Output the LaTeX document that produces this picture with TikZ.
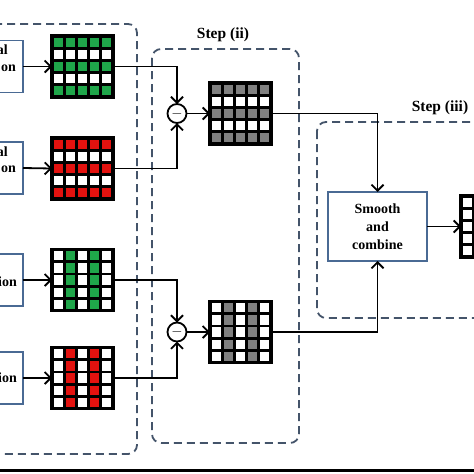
\documentclass[tikz,border=0pt]{standalone}
\usepackage{fontspec}
\setmainfont{Liberation Serif}
\usetikzlibrary{arrows.meta,calc}
\definecolor{dashc}{HTML}{44546A}
\definecolor{boxc}{HTML}{4A6A94}
\definecolor{gr}{HTML}{1FA64A}
\definecolor{rd}{HTML}{E3120F}
\definecolor{gy}{HTML}{808080}
\newcommand\gridlinesx[1]{%
  \foreach \k in {1,...,4}{%
    \draw[line width=2.8pt] ($(#1.north west)+({\k*12.2},0)$) -- +(0,61);
    \draw[line width=2.8pt] ($(#1.north west)+(0,{\k*12.2})$) -- +(61,0);}
  \draw[line width=3.5pt] (#1.north west) rectangle (#1.south east);}
\newcommand\gridrowsx[2]{%
  \foreach \r in {0,2,4}{\fill[#2] ($(#1.north west)+(0,{\r*12.2})$) rectangle +(61,12.2);}
  \gridlinesx{#1}}
\newcommand\gridcolsx[2]{%
  \foreach \c in {1,3}{\fill[#2] ($(#1.north west)+({\c*12.2},0)$) rectangle +(12.2,61);}
  \gridlinesx{#1}}
\begin{document}
\begin{tikzpicture}[x=1pt,y=-1pt,
  conn/.style={line width=1.8pt, draw=black},
  arr/.style={conn, -{Straight Barb[length=6pt,width=12pt,line width=1.8pt]}},
  gridbox/.style={minimum size=61pt, inner sep=0pt, outer sep=0pt, fill=white},
  inbox/.style={draw=boxc, line width=1.3pt, fill=white, minimum width=53pt, minimum height=52pt, inner sep=0pt, outer sep=0pt},
  lbl/.style={font=\fontsize{14}{18}\selectfont\bfseries, inner sep=0pt, anchor=east},
  circ/.style={circle, draw=black, line width=1.8pt, minimum size=19pt, inner sep=0pt, outer sep=0pt},
  stepbox/.style={draw=dashc, line width=1.8pt, dash pattern=on 8pt off 5pt, rounded corners=9pt},
  steplbl/.style={font=\fontsize{15.5}{18}\selectfont\bfseries, inner sep=0pt},
  smbox/.style={draw=boxc, line width=1.3pt, fill=white, minimum width=99pt, minimum height=69pt, align=center, inner sep=0pt, outer sep=0pt, font=\fontsize{14}{18}\selectfont\bfseries}
]
\useasboundingbox (0,0) rectangle (474,474);

% dashed step boxes
\draw[stepbox] (-20,24) rectangle (137,454);
\draw[stepbox] (152,49) rectangle (299,443);
\draw[stepbox] (317,122) rectangle (520,318);
\node[steplbl] (s2) at (223,35) {Step (ii)};
\node[steplbl] (s3) at (440,108) {Step (iii)};

% input boxes (cut at left edge)
\node[inbox] (b1) at (-3.5,66.5) {};
\node[inbox] (b2) at (-3.5,168) {};
\node[inbox] (b3) at (-3.5,280) {};
\node[inbox] (b4) at (-3.5,378) {};
\node[lbl] (t1a) at (8,50) {al};
\node[lbl] (t1b) at (16,68) {on};
\node[lbl] (t2a) at (8,152) {al};
\node[lbl] (t2b) at (16,169) {on};
\node[lbl] (t3) at (17,282) {ion};
\node[lbl] (t4) at (17,378) {ion};

% grids
\node[gridbox] (g1) at (82.5,66.5) {};
\node[gridbox] (g2) at (82.5,168.5) {};
\node[gridbox] (g3) at (82.5,280) {};
\node[gridbox] (g4) at (82.5,378) {};
\node[gridbox] (g5) at (240.5,113.5) {};
\node[gridbox] (g6) at (240.5,332) {};
\node[gridbox] (go) at (491.5,226.5) {};
\gridrowsx{g1}{gr}
\gridrowsx{g2}{rd}
\gridcolsx{g3}{gr}
\gridcolsx{g4}{rd}
\gridrowsx{g5}{gy}
\gridcolsx{g6}{gy}
\gridcolsx{go}{gy!70}

% subtraction circles
\node[circ, font=\fontsize{14}{14}\selectfont] (c1) at (177,113.5) {$-$};
\node[circ, font=\fontsize{14}{14}\selectfont] (c2) at (177,332) {$-$};

% smooth and combine
\node[smbox] (sm) at (377.5,226.5) {Smooth\\and\\combine};

% connectors
\draw[arr] (b1.east) -- (g1.west);
\draw[arr] (b2.east) -- (g2.west);
\draw[arr] (b3.east) -- (g3.west);
\draw[arr] (b4.east) -- (g4.west);
\draw[arr] (g1.east) -| (c1.north);
\draw[arr] (g2.east) -| (c1.south);
\draw[arr] (g3.east) -| (c2.north);
\draw[arr] (g4.east) -| (c2.south);
\draw[arr] (c1.east) -- (g5.west);
\draw[arr] (c2.east) -- (g6.west);
\draw[arr] (g5.east) -| (sm.north);
\draw[arr] (g6.east) -| (sm.south);
\draw[arr] (sm.east) -- (go.west);

% bottom rule
\draw[line width=2.5pt] (0,470.5) -- (474,470.5);
\end{tikzpicture}
\end{document}
